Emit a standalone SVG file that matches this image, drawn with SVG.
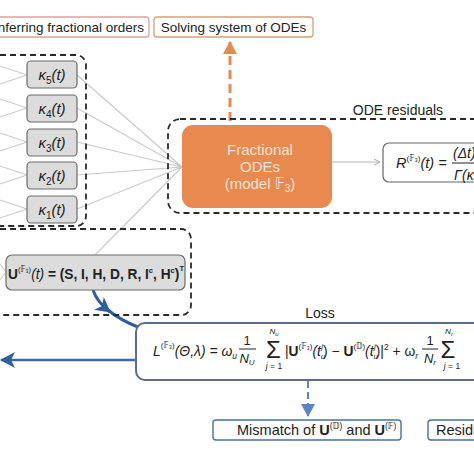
<svg xmlns="http://www.w3.org/2000/svg" width="474" height="474" viewBox="0 0 474 474">
<defs>
<style>
text{font-family:"Liberation Sans","DejaVu Sans",sans-serif;fill:#222}
.lbl{font-size:13.5px}
.m{font-style:italic}
.dash{fill:none;stroke:#2a2a2a;stroke-width:1.8;stroke-dasharray:6,4}
.kbox{fill:#dcdcdc;stroke:#6a6a6a;stroke-width:1.2}
.g{stroke:#c9c9c9;stroke-width:1.1;fill:none}
</style>
<marker id="ga" markerWidth="8" markerHeight="8" refX="7" refY="4" orient="auto" markerUnits="userSpaceOnUse"><path d="M1,1 L7,4 L1,7" fill="none" stroke="#aaa" stroke-width="1"/></marker>
<marker id="oa" markerWidth="14" markerHeight="14" refX="12" refY="7" orient="auto" markerUnits="userSpaceOnUse"><path d="M0,0 L13,7 L0,14 Z" fill="#e8894f"/></marker>
<marker id="ba" markerWidth="16" markerHeight="16" refX="14" refY="8" orient="auto" markerUnits="userSpaceOnUse"><path d="M0,0 L15,8 L0,16 L4,8 Z" fill="#2e5fa3"/></marker>
<marker id="la" markerWidth="14" markerHeight="14" refX="12" refY="7" orient="auto" markerUnits="userSpaceOnUse"><path d="M0,0 L13,7 L0,14 Z" fill="#5b85c6"/></marker>
</defs>
<rect width="474" height="474" fill="#fff"/>

<g id="connectors">
<path class="g" d="M0,66 L27,75 M0,84 L27,75 M0,99 L27,108 M0,117 L27,108 M0,133 L27,142 M0,151 L27,142 M0,166 L27,175 M0,184 L27,175 M0,200 L27,209 M0,218 L27,209 M0,264 L6,272 M0,280 L6,272"/>
<path class="g" d="M77,75 L182,167 M77,108 L182,167 M77,142 L182,167 M77,175 L182,167 M77,209 L182,167 M95,255 L182,167"/>
<line x1="332" y1="162" x2="380" y2="162" stroke="#b5b5b5" stroke-width="1.1" marker-end="url(#ga)"/>
<line x1="230" y1="121" x2="230" y2="42" stroke="#e8894f" stroke-width="3" stroke-dasharray="9,5" marker-end="url(#oa)"/>
<path d="M93,290 Q97,302 110,312" fill="none" stroke="#2e5fa3" stroke-width="3" marker-end="url(#ba)"/>
<path d="M108,310 Q120,320 138,327" fill="none" stroke="#2e5fa3" stroke-width="3"/>
<line x1="137" y1="360" x2="1" y2="360" stroke="#3a6ab0" stroke-width="2.5" marker-end="url(#ba)"/>
<line x1="308" y1="381" x2="308" y2="416" stroke="#5b85c6" stroke-width="2" stroke-dasharray="7,4" marker-end="url(#la)"/>
</g>

<g id="inferring">
<rect x="-10" y="17" width="159" height="20" rx="3" fill="#fff" stroke="#d9a3a3" stroke-width="1.3"/>
<text class="lbl" x="144" y="32" text-anchor="end">Inferring fractional orders</text>
</g>
<g id="solving">
<rect x="154" y="17" width="159" height="20" rx="3" fill="#fff" stroke="#d6a07a" stroke-width="1.3"/>
<text class="lbl" x="233.5" y="32" text-anchor="middle">Solving system of ODEs</text>
</g>

<g id="kappa-group">
<rect class="dash" x="-20" y="55" width="106" height="171" rx="10"/>
</g>
<g id="k5"><rect class="kbox" x="27" y="61" width="50" height="27" rx="4"/><text x="52" y="80" font-size="15" text-anchor="middle" class="m">κ<tspan font-size="10" dy="4" font-style="normal">5</tspan><tspan dy="-4">(t)</tspan></text></g>
<g id="k4"><rect class="kbox" x="27" y="95" width="50" height="27" rx="4"/><text x="52" y="114" font-size="15" text-anchor="middle" class="m">κ<tspan font-size="10" dy="4" font-style="normal">4</tspan><tspan dy="-4">(t)</tspan></text></g>
<g id="k3"><rect class="kbox" x="27" y="129" width="50" height="27" rx="4"/><text x="52" y="148" font-size="15" text-anchor="middle" class="m">κ<tspan font-size="10" dy="4" font-style="normal">3</tspan><tspan dy="-4">(t)</tspan></text></g>
<g id="k2"><rect class="kbox" x="27" y="162" width="50" height="27" rx="4"/><text x="52" y="181" font-size="15" text-anchor="middle" class="m">κ<tspan font-size="10" dy="4" font-style="normal">2</tspan><tspan dy="-4">(t)</tspan></text></g>
<g id="k1"><rect class="kbox" x="27" y="196" width="50" height="27" rx="4"/><text x="52" y="215" font-size="15" text-anchor="middle" class="m">κ<tspan font-size="10" dy="4" font-style="normal">1</tspan><tspan dy="-4">(t)</tspan></text></g>

<g id="u-group">
<rect class="dash" x="-20" y="229" width="211" height="86" rx="10"/>
</g>
<g id="u-state">
<rect class="kbox" x="6" y="255" width="179" height="35" rx="6"/>
<text x="8" y="279" font-size="14.5" textLength="176" lengthAdjust="spacingAndGlyphs"><tspan font-weight="bold">U</tspan><tspan font-size="8" dy="-7">(𝔽₃)</tspan><tspan dy="7" class="m">(t)</tspan><tspan font-weight="bold"> = (S, I, H, D, R, I</tspan><tspan font-size="8" dy="-6" font-weight="bold">c</tspan><tspan dy="6" font-weight="bold">, H</tspan><tspan font-size="8" dy="-6" font-weight="bold">c</tspan><tspan dy="6" font-weight="bold">)</tspan><tspan font-size="8" dy="-8" font-weight="bold">T</tspan></text>
</g>

<g id="ode-residuals-group">
<rect class="dash" x="168" y="119" width="330" height="94" rx="12"/>
<text x="398" y="115" font-size="14" text-anchor="middle">ODE residuals</text>
</g>
<g id="fractional-odes">
<rect x="182" y="125" width="150" height="83" rx="11" fill="#e8894f"/>
<text x="260" y="155" font-size="15" text-anchor="middle" style="fill:#fbe3d2">Fractional</text>
<text x="260" y="172" font-size="15" text-anchor="middle" style="fill:#fbe3d2">ODEs</text>
<text x="260" y="189" font-size="15" text-anchor="middle" style="fill:#fbe3d2">(model 𝔽<tspan font-size="10" dy="3">3</tspan><tspan dy="-3">)</tspan></text>
</g>
<g id="residual-formula">
<rect x="383" y="143" width="110" height="39" rx="6" fill="#fff" stroke="#666" stroke-width="1.2"/>
<text x="396" y="168" font-size="14.5" class="m">R<tspan font-size="8" dy="-7" font-style="normal">(𝔽₃)</tspan><tspan dy="7">(t) =</tspan></text>
<text x="453" y="158" font-size="14" class="m">(Δt)</text>
<line x1="452" y1="163" x2="480" y2="163" stroke="#222" stroke-width="1"/>
<text x="454" y="180" font-size="14" class="m">Γ(κ</text>
</g>

<g id="loss">
<text x="320" y="318" font-size="14" text-anchor="middle">Loss</text>
<rect x="136" y="323" width="360" height="57" rx="9" fill="#fff" stroke="#5a6e8c" stroke-width="2"/>
<text x="153" y="356" font-size="14" class="m" textLength="84" lengthAdjust="spacingAndGlyphs">L<tspan font-size="8" dy="-8" font-style="normal">(𝔽₃)</tspan><tspan dy="8">(Θ,λ) = ω</tspan><tspan font-size="8.5" dy="3">u</tspan></text>
<text x="247" y="345" font-size="13" text-anchor="middle">1</text>
<line x1="239" y1="349" x2="256" y2="349" stroke="#222" stroke-width="1"/>
<text x="247" y="363" font-size="13" text-anchor="middle" class="m">N<tspan font-size="8" dy="2">U</tspan></text>
<text x="273.5" y="358" font-size="24" text-anchor="middle">Σ</text>
<text x="274" y="334" font-size="8" text-anchor="middle" class="m">N<tspan font-size="6" dy="2">u</tspan></text>
<text x="274" y="369" font-size="8.5" text-anchor="middle"><tspan class="m">j</tspan> = 1</text>
<text x="285" y="356" font-size="14" textLength="133" lengthAdjust="spacingAndGlyphs">|<tspan font-weight="bold">U</tspan><tspan font-size="8" dy="-7">(𝔽₃)</tspan><tspan dy="7" class="m">(t</tspan><tspan font-size="8" dy="3" class="m">u</tspan><tspan font-size="8" dx="-4" dy="-10" class="m">j</tspan><tspan dy="7">) − </tspan><tspan font-weight="bold">U</tspan><tspan font-size="8" dy="-7">(𝔻)</tspan><tspan dy="7" class="m">(t</tspan><tspan font-size="8" dy="3" class="m">u</tspan><tspan font-size="8" dx="-4" dy="-10" class="m">j</tspan><tspan dy="7">)|</tspan><tspan font-size="8.5" dy="-6">2</tspan><tspan dy="6"> + ω</tspan><tspan font-size="8.5" dy="3" class="m">r</tspan></text>
<text x="430" y="345" font-size="13" text-anchor="middle">1</text>
<line x1="422" y1="349" x2="438" y2="349" stroke="#222" stroke-width="1"/>
<text x="430" y="363" font-size="13" text-anchor="middle" class="m">N<tspan font-size="8" dy="2">r</tspan></text>
<text x="448" y="358" font-size="24" text-anchor="middle">Σ</text>
<text x="449" y="334" font-size="8" text-anchor="middle" class="m">N<tspan font-size="6" dy="2">r</tspan></text>
<text x="452" y="369" font-size="8.5" text-anchor="middle"><tspan class="m">j</tspan> = 1</text>
</g>

<g id="mismatch">
<rect x="213" y="420" width="188" height="20" rx="3" fill="#fff" stroke="#4a6fa5" stroke-width="1.4"/>
<text x="237" y="435" font-size="14.5">Mismatch of <tspan font-weight="bold">U</tspan><tspan font-size="8.5" dy="-6">(𝔻)</tspan><tspan dy="6"> and </tspan><tspan font-weight="bold">U</tspan><tspan font-size="8.5" dy="-6">(𝔽)</tspan></text>
</g>
<g id="residuals">
<rect x="428" y="420" width="60" height="20" rx="3" fill="#fff" stroke="#4a6fa5" stroke-width="1.4"/>
<text x="436" y="435" font-size="14.5">Residu</text>
</g>
</svg>
